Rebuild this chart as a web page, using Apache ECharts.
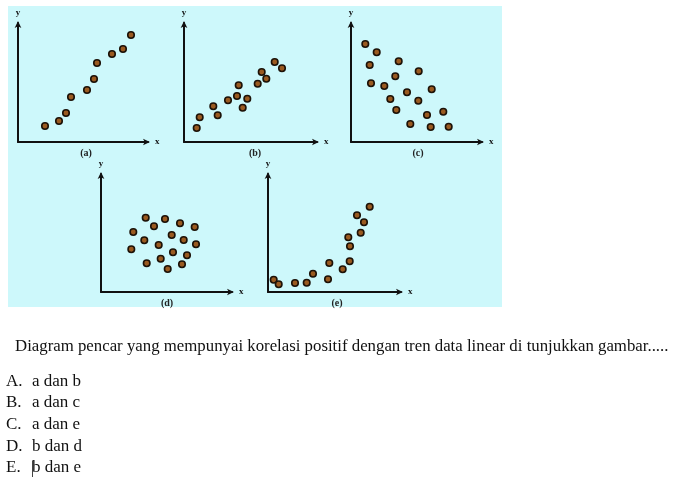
<!DOCTYPE html>
<html>
<head>
<meta charset="utf-8">
<script src="https://cdn.jsdelivr.net/npm/echarts@6/dist/echarts.min.js"></script>
<style>html,body{margin:0;padding:0;background:#fff}#c{width:695px;height:478px}</style>
</head>
<body>
<div id="c"></div>
<script>
// Scatter data (x, y) for each small diagram
var panelLabels = ['(a)', '(b)', '(c)', '(d)', '(e)'];
var dataA = [[27,16],[41,21],[48,29],[53,45],[69,52],[76,63],[79,79],[94,88],[105,93],[113,107]];
var dataB = [[12.7,14],[15.7,24.7],[29.3,35.7],[33.7,26.7],[44,41.7],[53,46],[54.7,56.7],[58.7,34.3],[63.3,43.3],[73.7,58.3],[77.7,70],[82.3,63.3],[90.7,80],[98,73.7]];
var dataC = [[14.3,98],[25.7,89.7],[18.7,77],[47.7,80.7],[67.7,70.7],[44.3,65.7],[20,58.7],[33.3,56],[56,49.7],[80.7,52.7],[39.3,43],[67.3,41.3],[45.3,32],[76,27],[92.3,30.3],[59.3,18],[79.7,15],[97.7,15.3]];
var dataD = [[44.7,74.3],[64,73],[79,68.7],[93.7,65],[53,65.7],[32.3,60],[70.7,57],[43.3,51.7],[82.7,52],[95,47.7],[57.7,47],[30.3,42.7],[72,39.7],[86,36.7],[59.7,33.3],[45.7,28.7],[81,27.7],[66.7,23]];
var dataE = [[5.7,12.3],[10.7,7.7],[27,9],[38.7,9.3],[45,18.3],[60,12.7],[61.3,29],[74.7,22.7],[81.7,30.7],[82,45.7],[80.3,54.7],[92.7,59.3],[89,76.7],[96,69.7],[101.7,85.3]];
var allData = [dataA, dataB, dataC, dataD, dataE];
var questionText = 'Diagram pencar yang mempunyai korelasi positif dengan tren data linear di tunjukkan gambar.....';
var optionLetters = ['A.', 'B.', 'C.', 'D.', 'E.'];
var optionTexts = ['a dan b', 'a dan c', 'a dan e', 'b dan d', 'b dan e'];

// layout (pixels)
var grids = [
  {left: 18, top: 23, width: 130, height: 119},
  {left: 184, top: 23, width: 133, height: 119},
  {left: 351, top: 23, width: 131, height: 119},
  {left: 101, top: 174, width: 131, height: 118},
  {left: 268, top: 174, width: 133, height: 118}
];
var labelPos = [[86,153],[255,153],[418,153],[167,303],[337,303]];

var chart = echarts.init(document.getElementById('c'), null, {renderer: 'canvas'});
var xAxes = [], yAxes = [], series = [], graphics = [];
var axisLineStyle = {color: '#111', width: 2};
grids.forEach(function (g, i) {
  xAxes.push({
    gridIndex: i, type: 'value', min: 0, max: g.width,
    axisLine: {show: true, onZero: false, lineStyle: axisLineStyle, symbol: ['none', 'arrow'], symbolSize: [5, 7], symbolOffset: [0, 2]},
    axisTick: {show: false}, axisLabel: {show: false}, splitLine: {show: false},
    name: 'x', nameLocation: 'end', nameGap: 7,
    nameTextStyle: {fontFamily: 'Liberation Serif', fontWeight: 'bold', fontSize: 9, color: '#111', verticalAlign: 'middle'}
  });
  yAxes.push({
    gridIndex: i, type: 'value', min: 0, max: g.height,
    axisLine: {show: true, onZero: false, lineStyle: axisLineStyle, symbol: ['none', 'arrow'], symbolSize: [5, 7], symbolOffset: [0, 2]},
    axisTick: {show: false}, axisLabel: {show: false}, splitLine: {show: false},
    name: 'y', nameLocation: 'end', nameGap: 6,
    nameTextStyle: {fontFamily: 'Liberation Serif', fontWeight: 'bold', fontSize: 9, color: '#111', align: 'center'}
  });
  series.push({
    type: 'scatter', xAxisIndex: i, yAxisIndex: i, data: allData[i],
    symbol: 'circle', symbolSize: 6.5,
    itemStyle: {color: '#9a5a20', borderColor: '#1c1208', borderWidth: 1.6, opacity: 1},
    silent: true, animation: false
  });
  graphics.push({
    type: 'text', x: labelPos[i][0], y: labelPos[i][1], z: 10,
    style: {text: panelLabels[i], font: 'bold 10px "Liberation Serif"', fill: '#222', align: 'center', verticalAlign: 'middle'}
  });
});

// panel background
graphics.unshift({type: 'rect', z: -10, shape: {x: 8, y: 6, width: 494, height: 301}, style: {fill: '#cdf8fb'}});
// question text
graphics.push({type: 'text', x: 15, y: 347, scaleX: 0.988, style: {text: questionText, font: '17px "Liberation Serif"', fill: '#111', verticalAlign: 'middle'}});
var optY = [381.5, 403, 425, 446.5, 468];
optionLetters.forEach(function (l, i) {
  graphics.push({type: 'text', x: 6, y: optY[i], style: {text: l, font: '17px "Liberation Serif"', fill: '#111', verticalAlign: 'middle'}});
  graphics.push({type: 'text', x: 32, y: optY[i], style: {text: optionTexts[i], font: '17px "Liberation Serif"', fill: '#111', verticalAlign: 'middle'}});
});
// text cursor before the last option
graphics.push({type: 'line', shape: {x1: 32.5, y1: 461, x2: 32.5, y2: 477}, style: {stroke: '#444', lineWidth: 1}});

chart.setOption({
  animation: false,
  backgroundColor: '#ffffff',
  grid: grids.map(function (g) { return {left: g.left, top: g.top, width: g.width, height: g.height, containLabel: false}; }),
  xAxis: xAxes,
  yAxis: yAxes,
  series: series,
  graphic: graphics
});
</script>
</body>
</html>
